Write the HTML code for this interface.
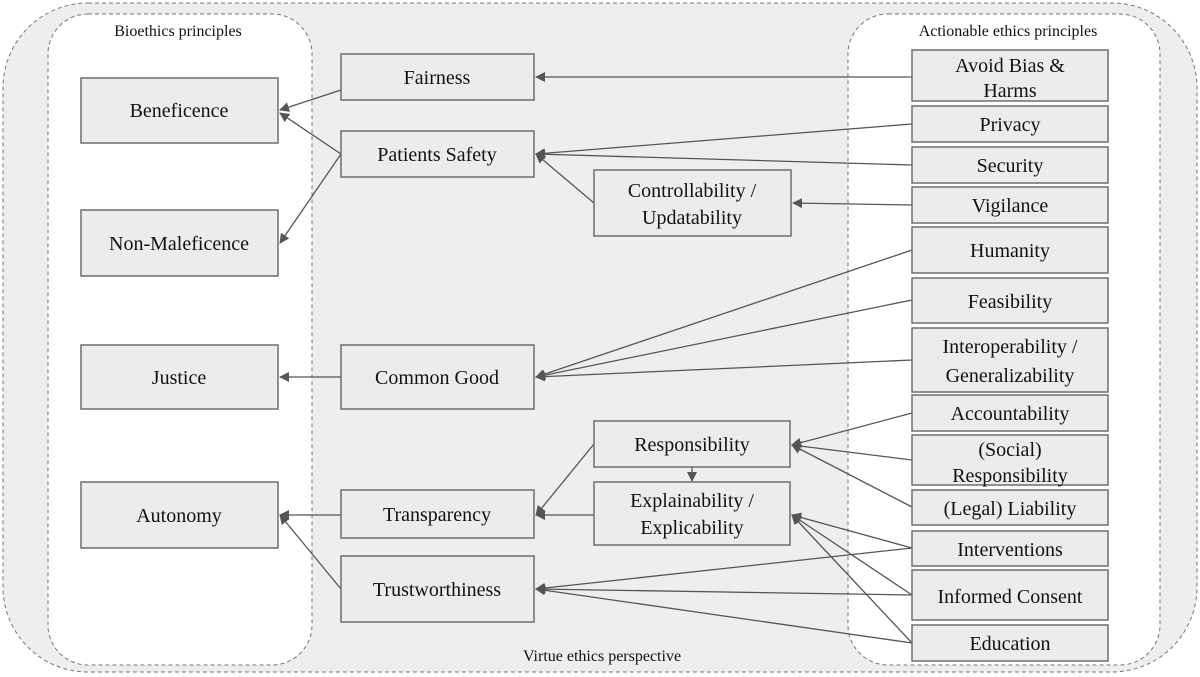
<!DOCTYPE html>
<html><head><meta charset="utf-8"><style>
body{margin:0;width:1200px;height:677px;background:#fff;font-family:"Liberation Serif",serif;}
svg{display:block}
text{font-family:"Liberation Serif",serif;fill:#111}
.b{fill:#ececec;stroke:#6e6e6e;stroke-width:1.5}
.l{stroke:#555;stroke-width:1.3;fill:none}
</style></head><body>
<svg width="1200" height="677" viewBox="0 0 1200 677">
<defs><marker id="a" markerWidth="10" markerHeight="10" refX="9" refY="5" orient="auto" markerUnits="userSpaceOnUse"><path d="M0,0 L10,5 L0,10 z" fill="#555"/></marker></defs>
<rect x="3" y="3" width="1194" height="669" rx="85" fill="#eeeeee" stroke="#777" stroke-dasharray="4,3"/>
<rect x="48" y="14" width="264" height="651" rx="40" fill="#fff" stroke="#777" stroke-dasharray="4,3"/>
<rect x="848" y="14" width="312" height="651" rx="40" fill="#fff" stroke="#777" stroke-dasharray="4,3"/>
<text x="178" y="36" font-size="16" text-anchor="middle">Bioethics principles</text>
<text x="1008" y="36" font-size="16" text-anchor="middle">Actionable ethics principles</text>
<text x="602" y="661" font-size="16" text-anchor="middle">Virtue ethics perspective</text>
<g class="l" marker-end="url(#a)">
<line x1="341" y1="90" x2="280" y2="110"/>
<line x1="341" y1="154" x2="280" y2="113"/>
<line x1="341" y1="154" x2="280" y2="243"/>
<line x1="912" y1="77" x2="536" y2="77"/>
<line x1="912" y1="124" x2="536" y2="154"/>
<line x1="912" y1="165" x2="536" y2="154"/>
<line x1="594" y1="203" x2="536" y2="154"/>
<line x1="912" y1="205" x2="793" y2="203"/>
<line x1="912" y1="250" x2="536" y2="377"/>
<line x1="912" y1="300" x2="536" y2="377"/>
<line x1="912" y1="360" x2="536" y2="377"/>
<line x1="341" y1="377" x2="280" y2="377"/>
<line x1="912" y1="413" x2="792" y2="445"/>
<line x1="912" y1="460" x2="792" y2="445"/>
<line x1="912" y1="507" x2="792" y2="445"/>
<line x1="692" y1="467" x2="692" y2="481"/>
<line x1="594" y1="515" x2="536" y2="515"/>
<line x1="594" y1="444" x2="536" y2="515"/>
<line x1="341" y1="515" x2="280" y2="515"/>
<line x1="341" y1="589" x2="280" y2="515"/>
<line x1="912" y1="548" x2="792" y2="515"/>
<line x1="912" y1="595" x2="792" y2="515"/>
<line x1="912" y1="643" x2="792" y2="515"/>
<line x1="912" y1="548" x2="536" y2="589"/>
<line x1="912" y1="595" x2="536" y2="589"/>
<line x1="912" y1="643" x2="536" y2="589"/>
</g>
<g font-size="20" text-anchor="middle">
<rect class="b" x="81" y="78" width="197" height="65"/><text x="179" y="117">Beneficence</text>
<rect class="b" x="81" y="210" width="197" height="66"/><text x="179" y="250">Non-Maleficence</text>
<rect class="b" x="81" y="345" width="197" height="64"/><text x="179" y="384">Justice</text>
<rect class="b" x="81" y="482" width="197" height="66"/><text x="179" y="522">Autonomy</text>
<rect class="b" x="341" y="54" width="193" height="46"/><text x="437" y="84">Fairness</text>
<rect class="b" x="341" y="131" width="193" height="46"/><text x="437" y="161">Patients Safety</text>
<rect class="b" x="594" y="170" width="197" height="66"/><text x="692" y="197">Controllability /</text><text x="692" y="224">Updatability</text>
<rect class="b" x="341" y="345" width="193" height="64"/><text x="437" y="384">Common Good</text>
<rect class="b" x="594" y="421" width="196" height="46"/><text x="692" y="451">Responsibility</text>
<rect class="b" x="594" y="482" width="196" height="63"/><text x="692" y="507">Explainability /</text><text x="692" y="534">Explicability</text>
<rect class="b" x="341" y="490" width="193" height="48"/><text x="437" y="521">Transparency</text>
<rect class="b" x="341" y="556" width="193" height="66"/><text x="437" y="596">Trustworthiness</text>
<rect class="b" x="912" y="50" width="196" height="51"/><text x="1010" y="72">Avoid Bias &amp;</text><text x="1010" y="97">Harms</text>
<rect class="b" x="912" y="106" width="196" height="36"/><text x="1010" y="131">Privacy</text>
<rect class="b" x="912" y="147" width="196" height="36"/><text x="1010" y="172">Security</text>
<rect class="b" x="912" y="187" width="196" height="36"/><text x="1010" y="212">Vigilance</text>
<rect class="b" x="912" y="227" width="196" height="46"/><text x="1010" y="257">Humanity</text>
<rect class="b" x="912" y="278" width="196" height="45"/><text x="1010" y="308">Feasibility</text>
<rect class="b" x="912" y="328" width="196" height="64"/><text x="1010" y="353">Interoperability /</text><text x="1010" y="382">Generalizability</text>
<rect class="b" x="912" y="395" width="196" height="36"/><text x="1010" y="420">Accountability</text>
<rect class="b" x="912" y="435" width="196" height="50"/><text x="1010" y="456">(Social)</text><text x="1010" y="482">Responsibility</text>
<rect class="b" x="912" y="490" width="196" height="35"/><text x="1010" y="515">(Legal) Liability</text>
<rect class="b" x="912" y="531" width="196" height="35"/><text x="1010" y="556">Interventions</text>
<rect class="b" x="912" y="570" width="196" height="50"/><text x="1010" y="603">Informed Consent</text>
<rect class="b" x="912" y="625" width="196" height="36"/><text x="1010" y="650">Education</text>
</g>
</svg>
</body></html>
